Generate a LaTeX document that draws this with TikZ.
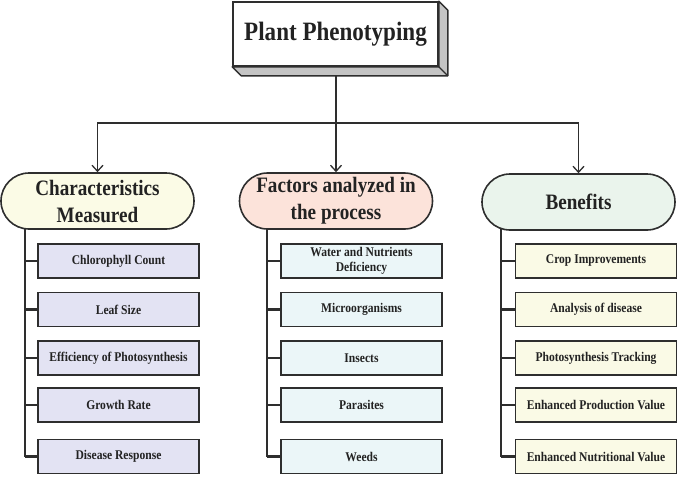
\documentclass[tikz,border=0pt]{standalone}
\usepackage{fontspec}
\setmainfont{Liberation Serif}[FakeStretch=0.87]
\usetikzlibrary{arrows.meta,backgrounds,calc}
\definecolor{edge}{HTML}{2E2E2E}
\definecolor{txt}{HTML}{222222}
\definecolor{catA}{HTML}{FBFBE6}
\definecolor{catB}{HTML}{FCE3DA}
\definecolor{catC}{HTML}{EAF4EC}
\definecolor{kidA}{HTML}{E3E3F3}
\definecolor{kidB}{HTML}{EBF6F8}
\definecolor{kidC}{HTML}{FAFAE6}
\definecolor{bevel}{HTML}{C4C4C4}
\begin{document}
\begin{tikzpicture}[x=1pt,y=-1pt,
  topbox/.style={draw=edge,line width=1.6pt,fill=white,minimum width=205pt,minimum height=64pt,inner sep=0pt,
    text=txt,font=\fontsize{26.5}{30}\selectfont\bfseries},
  catbox/.style={draw=edge,line width=1.6pt,rounded corners=28pt,minimum width=193pt,minimum height=56pt,inner sep=0pt,
    align=center,text=txt,font=\fontsize{22}{27}\selectfont\bfseries},
  kidbox/.style={draw=edge,line width=1.6pt,minimum width=161pt,minimum height=34pt,inner sep=0pt,
    align=center,text=txt,font=\fontsize{13.3}{15}\selectfont\bfseries},
  link/.style={draw=edge,line width=1.3pt},
  stub/.style={draw=edge,line width=2.6pt},
  arr/.style={draw=edge,line width=1.3pt,-{Straight Barb[length=6pt,width=11pt,line width=1.3pt]}}
]
\useasboundingbox (0,0) rectangle (685,485);

% top box
\node[topbox] (top) at (335.5,34) {Plant Phenotyping};
\fill[bevel,draw=edge,line width=1.4pt,line join=round]
  (top.north east) -- ++(9,9) -- ($(top.south east)+(9,9)$) -- ($(top.south west)+(9,9)$)
  -- (top.south west) -- (top.south east) -- cycle;
\draw[edge,line width=1.4pt] (top.south east) -- ++(9,9);
\coordinate (topbase) at ($(top.south)+(0.5,9)$);
\coordinate (hub) at (336,123);

% categories
\node[catbox,fill=catA] (c1) at (97.5,201) {Characteristics\\Measured};
\node[catbox,fill=catB] (c2) at (336,201) {Factors analyzed in\\the process};
\node[catbox,fill=catC] (c3) at (578.5,202) {Benefits};

\draw[link] (topbase) -- (hub);
\draw[arr] (hub) -| (c1.north);
\draw[arr] (hub) -| (c3.north);
\draw[arr] (hub) -- (c2.north);

% children
\foreach \n/\y in {1/261,2/309.5,3/358,4/405,5/456.5}{
  \coordinate (r\n) at (0,\y);
}
\node[kidbox,fill=kidA] (a1) at (r1 -| 118.5,0) {Chlorophyll Count};
\node[kidbox,fill=kidA] (a2) at (r2 -| 118.5,0) {Leaf Size};
\node[kidbox,fill=kidA] (a3) at (r3 -| 118.5,0) {Efficiency of Photosynthesis};
\node[kidbox,fill=kidA] (a4) at (r4 -| 118.5,0) {Growth Rate};
\node[kidbox,fill=kidA] (a5) at (r5 -| 118.5,0) {Disease Response};

\node[kidbox,fill=kidB] (b1) at (r1 -| 361.5,0) {Water and Nutrients\\Deficiency};
\node[kidbox,fill=kidB] (b2) at (r2 -| 361.5,0) {Microorganisms};
\node[kidbox,fill=kidB] (b3) at (r3 -| 361.5,0) {Insects};
\node[kidbox,fill=kidB] (b4) at (r4 -| 361.5,0) {Parasites};
\node[kidbox,fill=kidB] (b5) at (r5 -| 361.5,0) {Weeds};

\node[kidbox,fill=kidC] (d1) at (r1 -| 596,0) {Crop Improvements};
\node[kidbox,fill=kidC] (d2) at (r2 -| 596,0) {Analysis of disease};
\node[kidbox,fill=kidC] (d3) at (r3 -| 596,0) {Photosynthesis Tracking};
\node[kidbox,fill=kidC] (d4) at (r4 -| 596,0) {Enhanced Production Value};
\node[kidbox,fill=kidC] (d5) at (r5 -| 596,0) {Enhanced Nutritional Value};

\coordinate (ta) at (25,215);
\coordinate (tb) at (267,215);
\coordinate (tc) at (501,215);

\begin{pgfonlayer}{background}
  \draw[link] (ta) -- (ta |- a5.west);
  \draw[link] (tb) -- (tb |- b5.west);
  \draw[link] (tc) -- (tc |- d5.west);
\end{pgfonlayer}
\foreach \i in {1,...,5}{
  \draw[stub] (ta |- a\i.west) -- (a\i.west);
  \draw[stub] (tb |- b\i.west) -- (b\i.west);
  \draw[stub] (tc |- d\i.west) -- (d\i.west);
}
\end{tikzpicture}
\end{document}
